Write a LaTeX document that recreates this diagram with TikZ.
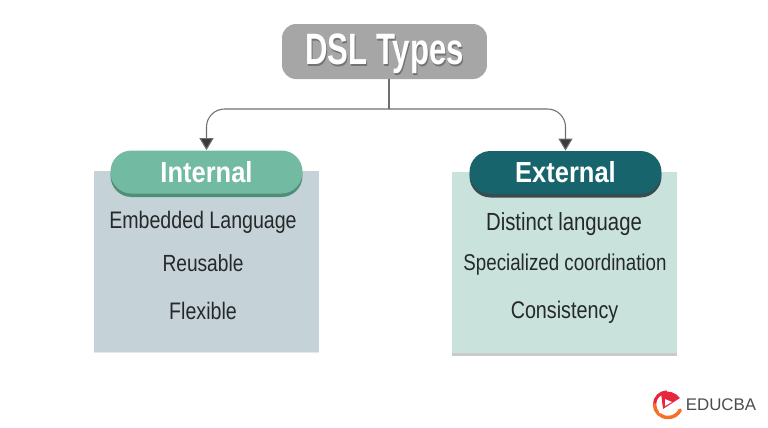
\documentclass[tikz,border=0pt]{standalone}
\usepackage{fontspec}
\setmainfont{Liberation Sans}
\newfontfamily\itemfont[FakeStretch=0.82]{Liberation Sans}
\newfontfamily\pillfont[FakeStretch=0.88]{Liberation Sans}
\newfontfamily\titlefont[FakeStretch=0.71]{Liberation Sans}
\usetikzlibrary{arrows.meta, shadows}
\definecolor{titlegray}{HTML}{A6A6A6}
\definecolor{intgreen}{HTML}{73BAA2}
\definecolor{intshade}{HTML}{4F8F79}
\definecolor{intbox}{HTML}{C5D3D9}
\definecolor{extteal}{HTML}{17646C}
\definecolor{extshade}{HTML}{3A4A4E}
\definecolor{extbox}{HTML}{C9E3DC}
\definecolor{linkgray}{HTML}{6E6E6E}
\definecolor{tipdark}{HTML}{3A3A3A}
\definecolor{textdark}{HTML}{26282A}
\definecolor{logored}{HTML}{E6273F}
\definecolor{logoorange}{HTML}{F4702A}
\tikzset{
  panel/.style = {minimum width=4.5cm, minimum height=3.62cm, inner sep=0pt},
  pill/.style = {minimum width=3.84cm, minimum height=0.86cm, inner sep=0pt, rounded corners=0.42cm,
    text=white, font=\pillfont\fontsize{16.5}{20}\selectfont\bfseries},
  item/.style = {text=textdark, inner sep=0pt, font=\itemfont\fontsize{13.6}{16}\selectfont},
  titlelabel/.style = {inner sep=0pt, font=\titlefont\fontsize{25}{30}\selectfont\bfseries},
  link/.style = {draw=linkgray, line width=0.6pt, rounded corners=0.36cm},
  tip/.style = {-{Triangle[length=0.24cm, width=0.28cm, fill=tipdark]}}
}
\begin{document}
\begin{tikzpicture}[x=0.02cm, y=-0.02cm]
\useasboundingbox (0,0) rectangle (768,427);
% title
\node[fill=titlegray, rounded corners=0.28cm, minimum width=4.1cm, minimum height=1.1cm] (title) at (384.5,51.5) {};
\node[titlelabel, text=black!55] (titleshade) at (385.5,55.5) {DSL Types};
\node[titlelabel, text=white] (titletext) at (384.5,54) {DSL Types};
% panels
\node[panel, fill=intbox, drop shadow={shadow xshift=0cm, shadow yshift=-0.03cm, fill=black!15, opacity=.6}] (intpanel) at (206.5,261.5) {};
\node[panel, fill=extbox, drop shadow={shadow xshift=0cm, shadow yshift=-0.06cm, fill=black!35, opacity=.6}] (extpanel) at (564.5,262.5) {};
\node[pill, fill=intgreen, drop shadow={shadow xshift=0cm, shadow yshift=-0.07cm, fill=intshade, opacity=1}] (internal) at (206.5,172) {Internal};
\node[pill, fill=extteal, drop shadow={shadow xshift=0cm, shadow yshift=-0.07cm, fill=extshade, opacity=1}] (external) at (565.5,172.5) {External};
% links
\coordinate (branch) at (389,109);
\draw[link] (title.south -| branch) -- (branch);
\draw[link, tip] (branch) -| (internal.north);
\draw[link, tip] (branch) -| (external.north);
% items
\node[item] (embedded) at (203,222) {Embedded Language};
\node[item, font=\itemfont\fontsize{13.3}{16}\selectfont] (reusable) at (203,263) {Reusable};
\node[item] (flexible) at (203,311) {Flexible};
\node[item, font=\itemfont\fontsize{14.1}{16}\selectfont] (distinct) at (564,224) {Distinct language};
\node[item, font=\itemfont\fontsize{13}{16}\selectfont] (special) at (565,265) {Specialized coordination};
\node[item, font=\itemfont\fontsize{13.7}{16}\selectfont] (consist) at (564.5,312) {Consistency};
% logo
\draw[logored, line width=1.8pt] (667,392) arc (-90:-180:12.5);
\draw[logoorange, line width=2pt, line cap=round] (654.5,404.5) arc (180:25:13.5 and 13);
\fill[logored] (661,392.5) .. controls (670,390) and (676,393) .. (680,398) -- (663,409) -- cycle;
\fill[white] (665,399) -- (672,402) -- (665,406) -- cycle;
\fill[white] (661,407) -- (663,409) -- (668,413) -- (659,413) -- cycle;
\node[text=black!70, font=\fontsize{9.6}{11}\selectfont, inner sep=0pt] (educba) at (721,404.5) {EDUCBA};
\end{tikzpicture}
\end{document}
